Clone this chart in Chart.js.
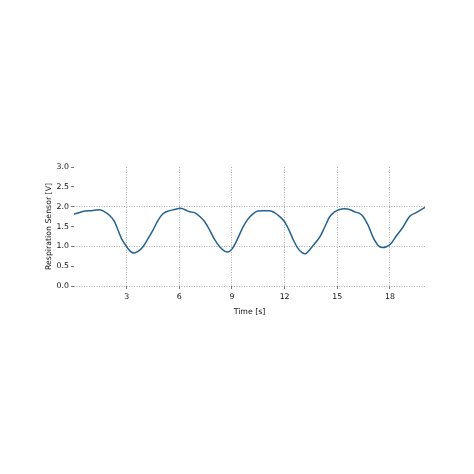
<!DOCTYPE html>
<html>
<head>
<meta charset="utf-8">
<script src="https://cdn.jsdelivr.net/npm/chart.js@4.4.0/dist/chart.umd.min.js"></script>
<style>
  html, body { margin: 0; padding: 0; background: #fff; }
  #wrap { width: 474px; height: 474px; }
</style>
</head>
<body>
<div id="wrap"><canvas id="myChart"></canvas></div>
<script>
// Respiration sensor trace
const times = [0, 0.5, 1.0, 1.45, 1.75, 2.0, 2.3, 2.5, 2.7, 3.0, 3.2, 3.42, 3.65, 3.93,
    4.2, 4.5, 4.78, 5.07, 5.45, 5.83, 6.05, 6.3, 6.6, 6.87, 7.15, 7.45, 7.73, 8.0,
    8.3, 8.58, 8.77, 9.0, 9.3, 9.6, 9.9, 10.2, 10.48, 10.8, 11.15, 11.43, 11.72, 12.0,
    12.25, 12.5, 12.76, 13.0, 13.18, 13.42, 13.7, 14.0, 14.28, 14.56, 14.85, 15.13,
    15.42, 15.7, 16.0, 16.27, 16.46, 16.75, 17.03, 17.32, 17.56, 17.8, 18.08, 18.36,
    18.74, 19.12, 19.5, 20.0];
const voltages = [1.81, 1.88, 1.90, 1.92, 1.87, 1.79, 1.63, 1.42, 1.20, 0.99, 0.88, 0.83, 0.87, 0.99,
    1.18, 1.41, 1.65, 1.82, 1.90, 1.94, 1.96, 1.93, 1.87, 1.85, 1.76, 1.62, 1.41, 1.18,
    0.99, 0.88, 0.86, 0.93, 1.17, 1.46, 1.68, 1.82, 1.89, 1.90, 1.90, 1.85, 1.75, 1.62,
    1.41, 1.16, 0.95, 0.84, 0.81, 0.91, 1.06, 1.23, 1.48, 1.74, 1.87, 1.93,
    1.95, 1.93, 1.87, 1.83, 1.76, 1.54, 1.24, 1.03, 0.97, 0.99, 1.08, 1.26,
    1.48, 1.75, 1.85, 1.98];
const xTicks = [3, 6, 9, 12, 15, 18];
const yTicks = [0, 0.5, 1.0, 1.5, 2.0, 2.5, 3.0];
const yGridAt = [0, 1.0, 2.0];

const points = times.map((t, i) => ({x: t, y: voltages[i]}));
const font = {family: "DejaVu Sans", size: 7.8};
const gridGray = "rgba(120,120,120,0.75)";

new Chart("myChart", {
    type: "line",
    data: {
        datasets: [{
            data: points,
            borderColor: "#24628f",
            borderWidth: 1.5,
            pointRadius: 0,
            cubicInterpolationMode: "monotone",
            fill: false
        }]
    },
    options: {
        responsive: true,
        maintainAspectRatio: false,
        animation: false,
        layout: {padding: {left: 44, top: 167, right: 49, bottom: 157}},
        plugins: {legend: {display: false}, tooltip: {enabled: false}},
        scales: {
            x: {
                type: "linear",
                min: 0,
                max: 20,
                afterBuildTicks: (scale) => {
                    scale.ticks = xTicks.map(v => ({value: v}));
                },
                afterFit: (scale) => { scale.height = 31; },
                ticks: {color: "#111", font: font, padding: 3, maxRotation: 0},
                grid: {color: gridGray, lineWidth: 0.8, tickColor: "#555", tickLength: 3},
                border: {display: false, dash: [1, 1.5]},
                title: {display: true, text: "Time [s]", color: "#111", font: font, padding: 0}
            },
            y: {
                min: 0,
                max: 3,
                afterBuildTicks: (scale) => {
                    scale.ticks = yTicks.map(v => ({value: v}));
                },
                afterFit: (scale) => { scale.width = 30; },
                ticks: {
                    color: "#111",
                    font: font,
                    padding: 2,
                    callback: (v) => v.toFixed(1)
                },
                grid: {
                    color: (ctx) => (ctx.tick && yGridAt.includes(ctx.tick.value)) ? gridGray : "rgba(0,0,0,0)",
                    lineWidth: 0.8,
                    tickColor: "#555",
                    tickLength: 3
                },
                border: {display: false, dash: [1, 1.5]},
                title: {display: true, text: "Respiration Sensor [V]", color: "#111", font: font, padding: 0}
            }
        }
    }
});
</script>
</body>
</html>
